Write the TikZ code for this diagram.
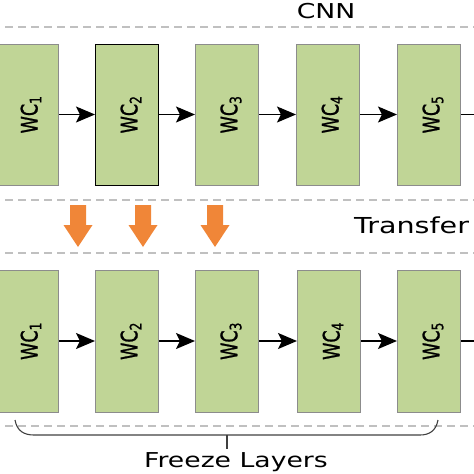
\documentclass[tikz,border=0pt]{standalone}
\usepackage{fontspec}
\setmainfont{DejaVu Sans}
\newfontfamily\layerfont[FakeBold=1.2]{DejaVu Sans}
\usetikzlibrary{arrows.meta}
\definecolor{layerGreen}{RGB}{192,213,150}
\definecolor{layerEdge}{RGB}{140,140,140}
\definecolor{transferOrange}{RGB}{240,134,56}
\definecolor{sepGray}{RGB}{192,192,192}

\begin{document}
\begin{tikzpicture}[x=1pt, y=-1pt,
		layer/.style={rectangle, fill=layerGreen, draw=layerEdge, line width=1pt, minimum width=63pt, minimum height=141pt, inner sep=0pt, font=\layerfont\fontsize{17.5}{20}\selectfont},
		flow/.style={-{Stealth[length=19pt, width=16pt, inset=4pt]}, line width=1.6pt},
		separator/.style={draw=sepGray, line width=1.2pt, dash pattern=on 8pt off 5pt},
		transfer/.style={fill=transferOrange},
		caption/.style={inner sep=0pt, font=\fontsize{20.5}{24}\selectfont}]
		\useasboundingbox (0,0) rectangle (474,474);

		% separators
		\draw[separator] (5,27) -- (474,27);
		\draw[separator] (5,200) -- (474,200);
		\draw[separator] (5,253) -- (474,253);
		\draw[separator] (5,426) -- (474,426);

		\node[caption, anchor=base](cnnLabel) at (326,18){\scalebox{1.3}[1]{CNN}};
		\node[caption, anchor=base, font=\fontsize{22}{26}\selectfont](transferLabel) at (411.5,233){\scalebox{1.3}[1]{Transfer}};
		\node[caption, anchor=base](freezeLabel) at (236,467){\scalebox{1.3}[1]{Freeze Layers}};

		% source network
		\node[layer](cnnOne) at (27,114.5){\hspace*{8pt}\rotatebox{90}{\scalebox{1}[1.3]{WC\textsubscript{1}}}};
		\node[layer, draw=black](cnnTwo) at (127,114.5){\hspace*{8pt}\rotatebox{90}{\scalebox{1}[1.3]{WC\textsubscript{2}}}};
		\node[layer](cnnThree) at (227,114.5){\hspace*{8pt}\rotatebox{90}{\scalebox{1}[1.3]{WC\textsubscript{3}}}};
		\node[layer](cnnFour) at (328,114.5){\hspace*{8pt}\rotatebox{90}{\scalebox{1}[1.3]{WC\textsubscript{4}}}};
		\node[layer](cnnFive) at (429,114.5){\hspace*{8pt}\rotatebox{90}{\scalebox{1}[1.3]{WC\textsubscript{5}}}};
		\coordinate (cnnOut) at (480,114.5);

		% target network
		\node[layer, minimum height=142pt](tlOne) at (27,341){\hspace*{8pt}\rotatebox{90}{\scalebox{1}[1.3]{WC\textsubscript{1}}}};
		\node[layer, minimum height=142pt](tlTwo) at (127,341){\hspace*{8pt}\rotatebox{90}{\scalebox{1}[1.3]{WC\textsubscript{2}}}};
		\node[layer, minimum height=142pt](tlThree) at (227,341){\hspace*{8pt}\rotatebox{90}{\scalebox{1}[1.3]{WC\textsubscript{3}}}};
		\node[layer, minimum height=142pt](tlFour) at (329,341){\hspace*{8pt}\rotatebox{90}{\scalebox{1}[1.3]{WC\textsubscript{4}}}};
		\node[layer, minimum height=142pt](tlFive) at (429,341){\hspace*{8pt}\rotatebox{90}{\scalebox{1}[1.3]{WC\textsubscript{5}}}};
		\coordinate (tlOut) at (480,341);

		% draw flow edges
		\draw[flow] (cnnOne.east) -- (cnnTwo.west);
		\draw[flow] (cnnTwo.east) -- (cnnThree.west);
		\draw[flow] (cnnThree.east) -- (cnnFour.west);
		\draw[flow] (cnnFour.east) -- (cnnFive.west);
		\draw[line width=1.6pt] (cnnFive.east) -- (cnnOut);

		\draw[flow] (tlOne.east) -- (tlTwo.west);
		\draw[flow] (tlTwo.east) -- (tlThree.west);
		\draw[flow] (tlThree.east) -- (tlFour.west);
		\draw[flow] (tlFour.east) -- (tlFive.west);
		\draw[line width=1.6pt] (tlFive.east) -- (tlOut);

		% transfer arrows
		\coordinate (trOne) at (78,205);
		\coordinate (trTwo) at (143,205);
		\coordinate (trThree) at (215,205);
		\fill[transfer] (trOne) ++(-8,0) -- ++(16,0) -- ++(0,20) -- ++(6.5,0) -- ++(-14.5,22) -- ++(-14.5,-22) -- ++(6.5,0) -- cycle;
		\fill[transfer] (trTwo) ++(-8,0) -- ++(16,0) -- ++(0,20) -- ++(6.5,0) -- ++(-14.5,22) -- ++(-14.5,-22) -- ++(6.5,0) -- cycle;
		\fill[transfer] (trThree) ++(-8,0) -- ++(16,0) -- ++(0,20) -- ++(6.5,0) -- ++(-14.5,22) -- ++(-14.5,-22) -- ++(6.5,0) -- cycle;

		% freeze brace
		\coordinate (brL) at (15,420);
		\coordinate (brR) at (438,420);
		\coordinate (brM) at (227,435);
		\draw[line width=1.1pt, black!75] (brL) .. controls (17,431) and (24,435) .. (34,435) -- (420,435) .. controls (429,435) and (436,431) .. (brR);
		\draw[line width=1.1pt, black!75, shorten >=3pt] (brM) -- (freezeLabel.north -| brM);
	\end{tikzpicture}
\end{document}
